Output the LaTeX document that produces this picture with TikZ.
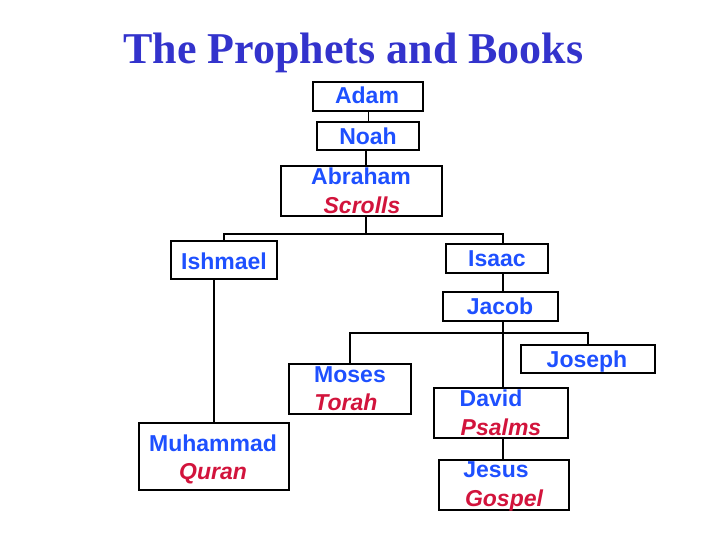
\documentclass[tikz,border=0pt]{standalone}
\usepackage{fontspec}
\setmainfont{Liberation Serif}
\newfontfamily\arialfont{Liberation Sans}
\usepackage{tikz}
\usetikzlibrary{positioning}

\definecolor{titleblue}{RGB}{51,51,204}
\definecolor{nameblue}{RGB}{30,80,255}
\definecolor{bookred}{RGB}{210,20,60}

\begin{document}
\begin{tikzpicture}[
        x=1pt, y=-1pt,
        % Node styles
        pbox/.style={
            draw, line width=1.6pt, inner sep=0pt,
        },
        pname/.style={
            anchor=base, inner sep=0pt, text=nameblue,
            font=\arialfont\bfseries\fontsize{23}{27}\selectfont,
        },
        pbook/.style={
            pname, text=bookred,
            font=\arialfont\bfseries\itshape\fontsize{23}{27}\selectfont,
        },
        % Connector style
        link/.style={draw, line width=1.3pt},
    ]
    \useasboundingbox (0,0) rectangle (720,540);

    % --- Title ---
    \node[anchor=base, inner sep=0pt, text=titleblue,
          font=\bfseries\fontsize{44}{50}\selectfont] (title) at (353.5,64)
          {The Prophets and Books};

    % --- Boxes ---
    \node[pbox, minimum width=110, minimum height=29] (adam)     at (368,96.5) {};
    \node[pbox, minimum width=102, minimum height=28] (noah)     at (368,136) {};
    \node[pbox, minimum width=161, minimum height=50] (abraham)  at (361.5,191) {};
    \node[pbox, minimum width=106, minimum height=38] (ishmael)  at (224,260) {};
    \node[pbox, minimum width=102, minimum height=29] (isaac)    at (497,258.5) {};
    \node[pbox, minimum width=115, minimum height=29] (jacob)    at (500.5,306.5) {};
    \node[pbox, minimum width=122, minimum height=50] (moses)    at (350,389) {};
    \node[pbox, minimum width=134, minimum height=28] (joseph)   at (588,359) {};
    \node[pbox, minimum width=134, minimum height=50] (david)    at (501,413) {};
    \node[pbox, minimum width=130, minimum height=50] (jesus)    at (504,485) {};
    \node[pbox, minimum width=150, minimum height=67] (muhammad) at (214,456.5) {};

    % --- Names and books ---
    \node[pname] (adamT)     at (367,104)   {Adam};
    \node[pname] (noahT)     at (368,145)   {Noah};
    \node[pname] (abrahamT)  at (361,184.5) {Abraham};
    \node[pbook] (scrolls)   at (362,213.5) {Scrolls};
    \node[pname] (ishmaelT)  at (224,269)   {Ishmael};
    \node[pname] (isaacT)    at (497,266)   {Isaac};
    \node[pname] (jacobT)    at (500,314.5) {Jacob};
    \node[pname] (mosesT)    at (350,382)   {Moses};
    \node[pbook] (torah)     at (346,410.5) {Torah};
    \node[pname] (josephT)   at (587,367.5) {Joseph};
    \node[pname] (davidT)    at (491,406.5) {David};
    \node[pbook] (psalms)    at (501,435)   {Psalms};
    \node[pname] (jesusT)    at (496,477.5) {Jesus};
    \node[pbook] (gospel)    at (504,506.5) {Gospel};
    \node[pname] (muhammadT) at (213,451)   {Muhammad};
    \node[pbook] (quran)     at (213,479)   {Quran};

    % --- Connectors ---
    \coordinate (split1) at (366,234);
    \coordinate (split2) at (503,333);
    \coordinate (isaacTop) at (503,244);

    \draw[line width=0.8pt] (adam.south) -- (noah.north);
    \draw[link] (noah.south -| split1) -- (abraham.north -| split1);
    \draw[link] (abraham.south -| split1) -- (split1);
    \draw[link] (ishmael.north) |- (split1) -| (isaacTop);
    \draw[link] (isaac.south -| isaacTop) -- (jacob.north -| isaacTop);
    \draw[link] (jacob.south -| split2) -- (david.north -| split2);
    \draw[link] (moses.north) |- (split2) -| (joseph.north);
    \draw[link] (david.south -| split2) -- (jesus.north -| split2);
    \draw[link] (ishmael.south -| muhammad.north) -- (muhammad.north);
\end{tikzpicture}
\end{document}
